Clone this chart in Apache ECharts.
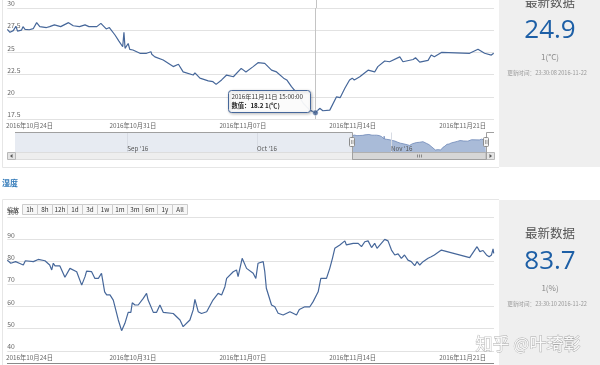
<!DOCTYPE html>
<html><head><meta charset="utf-8">
<script src="https://cdn.jsdelivr.net/npm/echarts@6/dist/echarts.min.js"></script>
<style>html,body{margin:0;padding:0;background:#fff}#c{width:600px;height:365px}</style>
</head><body><div id="c"></div>
<script>
// ---- data (x = days since 2016-10-24 00:00) ----
const xTickDays = [0, 7, 14, 21, 28];
const xTickLabels = ['2016年10月24日', '2016年10月31日', '2016年11月07日', '2016年11月14日', '2016年11月21日'];
const tempDays = [-1,-0.83,-0.62,-0.5,-0.45,-0.35,-0.1,0,0.13,0.4,0.65,0.87,1.07,1.5,1.7,2,2.4,2.9,3.2,3.6,3.95,4.2,4.7,4.96,5.3,5.5,5.86,6.1,6.35,6.43,6.5,6.7,6.8,7,7.45,7.87,8.15,8.2,8.4,8.93,9.57,9.9,10.2,10.84,10.95,11.27,11.8,12.1,12.3,12.65,12.97,13.4,13.9,14.2,14.66,14.97,15.4,15.83,16.15,16.6,16.8,17.1,17.5,17.85,18.27,18.625,18.9,19.1,19.54,19.97,20.2,20.5,20.8,20.97,21.1,21.45,21.98,22.4,22.6,23.04,23.35,24,24.2,24.85,25,25.27,25.8,26,26.2,26.65,28.45,28.98,29.4,29.83,29.98];
const tempVals = [27.6,27.26,27.45,27.3,27.95,27.4,27.5,27.9,27.6,27.55,27.67,28.35,27.9,27.8,27.9,28.1,27.9,28.35,28.0,27.9,28.1,27.9,27.9,28.27,27.64,27.8,26.96,26.3,25.64,27.26,25.46,26.0,25.35,25.27,24.9,24.9,25.08,24.8,24.5,24.14,23.4,23.66,22.8,22.45,22.7,22.1,21.8,21.7,21.4,21.9,22.45,22.26,23.2,22.8,23.4,23.84,23.77,23.0,22.8,22.1,21.9,21.14,20.3,19.27,18.5,18.2,18.7,18.43,18.5,20.0,19.9,20.96,21.9,22.1,21.9,22.26,23.0,22.8,23.4,24.03,23.95,24.5,23.95,24.2,24.4,23.9,24.1,24.7,24.5,25.0,24.9,25.35,24.9,24.7,24.9];
const humDays = [-1,-0.78,-0.47,-0.2,0.02,0.15,0.66,0.77,0.97,1.4,1.7,1.83,1.93,2.04,2.35,2.67,2.99,3.42,3.74,3.95,4.05,4.37,4.47,4.58,4.8,5,5.2,5.33,5.54,5.75,5.86,6.07,6.28,6.49,6.7,6.87,6.96,7.13,7.34,7.66,7.87,7.97,8.3,8.51,8.72,8.93,9.04,9.57,10,10.2,10.3,10.63,10.84,10.95,11.16,11.37,11.7,12.1,12.43,12.65,12.86,12.97,13.39,13.6,13.7,13.96,14.24,14.66,14.83,14.97,15.3,15.4,15.5,15.83,16.04,16.25,16.57,17,17.2,17.42,17.6,17.95,18.27,18.48,18.8,18.97,19.33,19.54,19.71,19.86,20.18,20.5,20.6,21.03,21.35,21.56,21.77,21.98,22.2,22.4,22.55,23.04,23.25,23.47,23.68,23.89,24.1,24.3,24.52,24.73,24.95,25.1,25.27,25.48,25.8,26,26.2,26.65,28.45,28.92,29.1,29.3,29.52,29.69,29.84,29.94,29.98];
const humVals = [80.7,79.3,80,79.2,78.5,80.4,80,79.3,81,80.4,78.5,76.3,79.3,78.1,78.1,73,77,75.5,69.5,73.3,75.8,75.5,76.3,72.5,72.5,74.8,66.5,65.1,65.1,62.8,59.8,53.9,49.1,52.4,57.3,57.3,61.6,60.6,60.6,63.6,65.8,62.8,57.3,57.3,60.6,57.3,56.8,56.8,53.9,50.9,50.5,53.9,58.4,63.1,57.6,56.8,57.6,62.8,65.8,65.1,68.8,72.5,75.5,76.3,73.3,81.5,77,74.8,72.5,79.3,80,75.5,68.1,60.6,59.8,56.9,56.1,57.6,56.9,56.1,58.6,59.8,59.8,62.1,66.5,72.5,72.5,77,81.5,86,87.5,89.3,87.5,88.2,88.2,86.7,88.9,89.3,86.3,88.2,86,90,89.3,85.2,83,83.5,81.5,83,80.7,80,78.2,80,78.5,80,81.5,82.2,83,85.2,81.8,86.7,84.5,85,83,82.2,83,85.7,83.7];
const tipDay = [18.625];
const tipTemp = [18.2];
const navMonthDays = [-53, -23, 8];
const navMonthLabels = ["Sep '16", "Oct '16", "Nov '16"];
const rangeButtons = ['1h','8h','12h','1d','3d','1w','1m','3m','6m','1y','All'];
const latestTemp = '24.9', latestTempUnit = '1(°C)', latestTempTime = '更新时间：23:30:08 2016-11-22';
const latestHum = '83.7', latestHumUnit = '1(%)', latestHumTime = '更新时间：23:30:10 2016-11-22';

const FONT = "'Noto Sans CJK SC','Noto Sans',sans-serif";
const zip = (a, b) => a.map((d, i) => [d, b[i]]);
const LINE = '#46679a';
const pad2 = n => (n < 10 ? '0' : '') + n;
function tipDateText(d) {
  const t = new Date(2016, 9, 24, 0, 0, 0).getTime() + d * 86400000;
  const dt = new Date(t);
  return dt.getFullYear() + '年' + (dt.getMonth() + 1) + '月' + dt.getDate() + '日 ' +
    pad2(dt.getHours()) + ':' + pad2(dt.getMinutes()) + ':' + pad2(dt.getSeconds());
}
const xLabel = v => {
  const i = xTickDays.indexOf(v);
  if (i < 0) return '';
  return i === 0 ? '{first|' + xTickLabels[i] + '}' : xTickLabels[i];
};
function dayAxis(gi) {
  return {
    type: 'value', gridIndex: gi, min: -1, max: 30,
    axisLine: { show: false }, axisTick: { show: false }, splitLine: { show: false },
    axisLabel: {
      customValues: xTickDays, formatter: xLabel, fontSize: 6.3, color: '#666', margin: 3, fontFamily: FONT,
      rich: { first: { padding: [0, 0, 0, 13], fontSize: 6.3, color: '#666', fontFamily: FONT } }
    }
  };
}
function valAxis(gi, min, max, interval) {
  return {
    type: 'value', gridIndex: gi, min: min, max: max, interval: interval,
    axisLine: { show: false }, axisTick: { show: false },
    splitLine: { lineStyle: { color: '#e2e2e2', width: 1 } },
    axisLabel: { inside: true, verticalAlign: 'bottom', margin: 0, padding: [0, 0, 1, 0], fontSize: 6.8, color: '#666', fontFamily: FONT }
  };
}

const chart = echarts.init(document.getElementById('c'), null, { renderer: 'canvas', width: 600, height: 365 });

const g = [];
// panels
g.push({ type: 'rect', z: -10, shape: { x: 499, y: 0, width: 101, height: 167 }, style: { fill: '#efefef' } });
g.push({ type: 'rect', z: -10, shape: { x: 499, y: 200, width: 101, height: 165 }, style: { fill: '#efefef' } });
g.push({ type: 'polyline', z: -9, shape: { points: [[2.5, 0], [2.5, 167.5], [499, 167.5]] }, style: { stroke: '#e6e6e6', fill: null, lineWidth: 1 } });
g.push({ type: 'polyline', z: -9, shape: { points: [[2.5, 365], [2.5, 199.5], [499, 199.5]] }, style: { stroke: '#e6e6e6', fill: null, lineWidth: 1 } });
// crosshair extension above plot top
g.push({ type: 'line', z: 1, shape: { x1: 316.5, y1: 0, x2: 316.5, y2: 8 }, style: { stroke: '#c4c4c4', lineWidth: 1 } });
// title
g.push({ type: 'text', z: 5, style: { text: '湿度', x: 2, y: 182.5, fontSize: 8, fontWeight: 'bold', fill: '#2f78b8', fontFamily: FONT, textVerticalAlign: 'middle' } });
// right panels
function panel(y0, val, unit, time) {
  g.push({ type: 'text', z: 5, style: { text: '最新数据', x: 550, y: y0, fontSize: 12.5, fill: '#555', fontFamily: FONT, textAlign: 'center', textVerticalAlign: 'middle' } });
  g.push({ type: 'text', z: 5, style: { text: val, x: 550, y: y0 + 28.5, fontSize: 26, fill: '#1d5fa6', fontFamily: "'Open Sans',sans-serif", textAlign: 'center', textVerticalAlign: 'middle' } });
  g.push({ type: 'text', z: 5, style: { text: unit, x: 550, y: y0 + 54.5, fontSize: 8, fill: '#8a8a8a', fontFamily: FONT, textAlign: 'center', textVerticalAlign: 'middle' } });
  g.push({ type: 'text', z: 5, style: { text: time, x: 547, y: y0 + 70, fontSize: 5.6, fill: '#999', fontFamily: FONT, textAlign: 'center', textVerticalAlign: 'middle' } });
}
panel(2.5, latestTemp, latestTempUnit, latestTempTime);
panel(233.5, latestHum, latestHumUnit, latestHumTime);
// navigator mask + outline + handles + scrollbar
g.push({ type: 'rect', z: 0, shape: { x: 15, y: 132.5, width: 337, height: 20 }, style: { fill: '#e7ebf2' } });
g.push({ type: 'rect', z: 3, shape: { x: 15.5, y: 152.5, width: 470.5, height: 7 }, style: { fill: '#eeeeee', stroke: '#dddddd', lineWidth: 1 } });
g.push({ type: 'rect', z: 4, shape: { x: 352.5, y: 152.5, width: 133.5, height: 7 }, style: { fill: '#d6d6d6', stroke: '#b0b0b0', lineWidth: 1 } });
[417, 419, 421].forEach(x => g.push({ type: 'line', z: 5, shape: { x1: x + 0.5, y1: 154.5, x2: x + 0.5, y2: 157.5 }, style: { stroke: '#888', lineWidth: 1 } }));
g.push({ type: 'rect', z: 4, shape: { x: 7.5, y: 152.5, width: 8, height: 7 }, style: { fill: '#e4e4e4', stroke: '#b8b8b8', lineWidth: 1 } });
g.push({ type: 'polygon', z: 5, shape: { points: [[12.5, 154], [12.5, 158], [10, 156]] }, style: { fill: '#555' } });
g.push({ type: 'rect', z: 4, shape: { x: 486.5, y: 152.5, width: 8, height: 7 }, style: { fill: '#e4e4e4', stroke: '#b8b8b8', lineWidth: 1 } });
g.push({ type: 'polygon', z: 5, shape: { points: [[489.5, 154], [489.5, 158], [492, 156]] }, style: { fill: '#555' } });
g.push({ type: 'polyline', z: 6, shape: { points: [[15, 132.5], [352.5, 132.5], [352.5, 159.5], [486.5, 159.5], [486.5, 132.5], [494, 132.5]] }, style: { stroke: '#a0a0a0', fill: null, lineWidth: 1 } });
[352, 486].forEach(x => {
  g.push({ type: 'rect', z: 7, shape: { x: x - 2.5, y: 137.5, width: 5, height: 9, r: 1 }, style: { fill: '#f4f4f4', stroke: '#8c8c8c', lineWidth: 1 } });
  g.push({ type: 'line', z: 8, shape: { x1: x - 0.5, y1: 140, x2: x - 0.5, y2: 144 }, style: { stroke: '#777', lineWidth: 0.6 } });
  g.push({ type: 'line', z: 8, shape: { x1: x + 1, y1: 140, x2: x + 1, y2: 144 }, style: { stroke: '#777', lineWidth: 0.6 } });
});
// range selector
g.push({ type: 'text', z: 6, style: { text: '缩放', x: 7, y: 209.5, fontSize: 6, fill: '#333', fontFamily: FONT, textVerticalAlign: 'middle' } });
rangeButtons.forEach((b, i) => {
  const x = 22 + 15 * i;
  g.push({ type: 'rect', z: 6, shape: { x: x + 0.5, y: 204.5, width: 15, height: 10 }, style: { fill: '#f7f7f7', stroke: '#cccccc', lineWidth: 1 } });
  g.push({ type: 'text', z: 7, style: { text: b, x: x + 8, y: 209.8, fontSize: 6.3, fill: '#333', fontFamily: FONT, textAlign: 'center', textVerticalAlign: 'middle' } });
});
// bottom line
g.push({ type: 'line', z: 5, shape: { x1: 7, y1: 363.5, x2: 494, y2: 363.5 }, style: { stroke: '#8a8a8a', lineWidth: 1.2 } });
// tooltip
g.push({ type: 'rect', z: 30, shape: { x: 228.5, y: 90.5, width: 82, height: 22, r: 3 }, style: { fill: 'rgba(255,255,255,0.93)', stroke: LINE, lineWidth: 1, shadowBlur: 3, shadowColor: 'rgba(0,0,0,0.25)', shadowOffsetX: 1, shadowOffsetY: 1 } });
g.push({ type: 'text', z: 31, style: { text: tipDateText(tipDay[0]), x: 231.5, y: 96.5, fontSize: 6.2, fill: '#333', fontFamily: FONT, textVerticalAlign: 'middle' } });
g.push({ type: 'text', z: 31, style: { text: '数值：' + tipTemp[0].toFixed(1) + ' 1(℃)', x: 231.5, y: 105.5, fontSize: 6.3, fontWeight: 'bold', fill: '#222', fontFamily: FONT, textVerticalAlign: 'middle' } });
// watermark
g.push({ type: 'text', z: 40, style: { text: '知乎 @叶琦彰', x: 528, y: 344, fontSize: 17, fill: 'rgba(255,255,255,0.9)', stroke: 'rgba(110,110,110,0.55)', lineWidth: 0.8, fontFamily: FONT, textAlign: 'center', textVerticalAlign: 'middle' } });

const option = {
  animation: false,
  backgroundColor: '#ffffff',
  textStyle: { fontFamily: FONT },
  grid: [
    { left: 7.3, width: 486.7, top: 8, height: 111 },
    { left: 7.3, width: 486.7, top: 217, height: 134 },
    { left: 15, width: 471, top: 132.5, height: 19.5 }
  ],
  xAxis: [
    dayAxis(0),
    dayAxis(1),
    {
      type: 'value', gridIndex: 2, min: -79, max: 30, z: 10,
      axisLine: { show: false }, axisTick: { show: false }, splitLine: { show: false },
      axisLabel: {
        customValues: navMonthDays, inside: true, align: 'left', verticalAlign: 'middle', margin: 3.5,
        fontSize: 6.2, color: '#555', fontFamily: FONT,
        formatter: v => { const i = navMonthDays.indexOf(v); return i < 0 ? '' : navMonthLabels[i]; }
      }
    }
  ],
  yAxis: [
    valAxis(0, 17.5, 30, 2.5),
    valAxis(1, 40, 100, 10),
    { type: 'value', gridIndex: 2, min: 17.2, max: 29.6, show: false }
  ],
  graphic: g,
  series: [
    {
      type: 'line', xAxisIndex: 0, yAxisIndex: 0, data: zip(tempDays, tempVals), showSymbol: false,
      lineStyle: { color: LINE, width: 1.2 }, itemStyle: { color: LINE }, z: 3,
      markLine: { silent: true, symbol: ['none', 'none'], label: { show: false }, lineStyle: { color: '#c4c4c4', width: 1, type: 'solid' }, data: [{ xAxis: tipDay[0] }] }
    },
    {
      type: 'scatter', xAxisIndex: 0, yAxisIndex: 0, data: zip(tipDay, tipTemp), symbolSize: 5.5,
      itemStyle: { color: '#3d5d8e', borderColor: '#ffffff', borderWidth: 0.5 }, z: 5
    },
    {
      type: 'line', xAxisIndex: 1, yAxisIndex: 1, data: zip(humDays, humVals), showSymbol: false,
      lineStyle: { color: LINE, width: 1.2 }, itemStyle: { color: LINE }, z: 3
    },
    {
      type: 'line', xAxisIndex: 2, yAxisIndex: 2, data: zip(tempDays, tempVals), showSymbol: false,
      lineStyle: { color: '#6d88b8', width: 0.8 }, areaStyle: { color: '#a9bbd8', opacity: 1 }, z: 2,
      markLine: { silent: true, symbol: ['none', 'none'], label: { show: false }, lineStyle: { color: '#d8dce4', width: 1, type: 'solid' }, data: navMonthDays.map(d => ({ xAxis: d })) }
    }
  ]
};
chart.setOption(option);
</script>
</body></html>
